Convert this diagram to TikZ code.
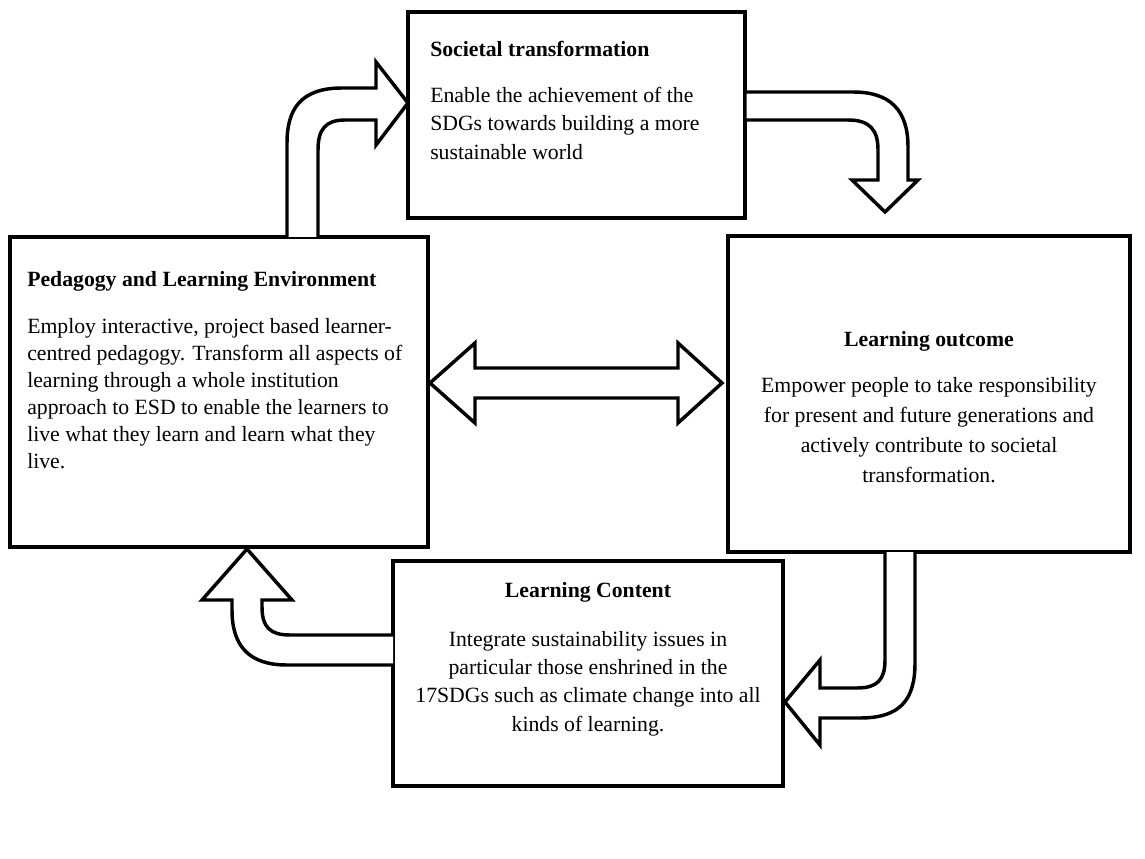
\documentclass[tikz,border=0pt]{standalone}
\usepackage{fontspec}
\setmainfont{Liberation Serif}
\begin{document}
\begin{tikzpicture}[x=0.75pt,y=-0.75pt,
  box/.style={draw,line width=3pt,fill=white},
  arr/.style={draw,line width=2.6pt,fill=white,line join=miter},
  txt/.style={font=\fontsize{16.3}{20}\selectfont,inner sep=0pt},
  ttl/.style={font=\fontsize{16.3}{20}\selectfont\bfseries,inner sep=0pt}]
\useasboundingbox (0,0) rectangle (1145,859);
% boxes
\draw[box] (408,12) rectangle (745,218);
\draw[box] (10,237) rectangle (428,547);
\draw[box] (728,236) rectangle (1130,552);
\draw[box] (393,561) rectangle (783,786);
% arrows
\draw[arr] (287,237) -- (287,143) .. controls (287,110) and (300,88) .. (342,88) -- (376,88) -- (376,62) -- (408,103) -- (376,145) -- (376,120) -- (345,120) .. controls (325,120) and (318,130) .. (318,150) -- (318,237);
\draw[arr] (745,92) -- (853,92) .. controls (890,92) and (908,110) .. (908,147) -- (908,180) -- (918,180) -- (885,212) -- (852,180) -- (878,180) -- (878,150) .. controls (878,130) and (870,120) .. (848,120) -- (745,120) -- cycle;
\draw[arr] (430,383) -- (475,343) -- (475,368) -- (678,368) -- (678,343) -- (722,383) -- (678,423) -- (678,398) -- (475,398) -- (475,423) -- cycle;
\draw[arr] (885,552) -- (885,660) .. controls (885,680) and (877,688) .. (857,688) -- (820,688) -- (820,660) -- (785,702) -- (820,745) -- (820,718) -- (860,718) .. controls (900,718) and (915,700) .. (915,663) -- (915,552);
\draw[arr] (393,635) -- (290,635) .. controls (270,635) and (262,627) .. (262,607) -- (262,600) -- (292,600) -- (247,549) -- (202,600) -- (232,600) -- (232,610) .. controls (232,647) and (250,665) .. (287,665) -- (393,665);
% texts
\node[ttl,anchor=north west] (t1) at (430,41) {Societal transformation};
\node[txt,anchor=north west,align=left] (b1) at (430,87) {Enable the achievement of the\\[1.2pt]SDGs towards building a more\\[1.2pt]sustainable world};
\node[ttl,anchor=north west] (t2) at (27,271) {Pedagogy and Learning Environment};
\node[txt,anchor=north west,align=left] (b2) at (27,318) {Employ interactive, project based learner-\\[0.3pt]centred pedagogy. Transform all aspects of\\[0.3pt]learning through a whole institution\\[0.3pt]approach to ESD to enable the learners to\\[0.3pt]live what they learn and learn what they\\[0.3pt]live.};
\node[ttl,anchor=north] (t3) at (929,331) {Learning outcome};
\node[txt,anchor=north,align=center] (b3) at (929,377) {Empower people to take responsibility\\[2.5pt]for present and future generations and\\[2.5pt]actively contribute to societal\\[2.5pt]transformation.};
\node[ttl,anchor=north] (t4) at (588,582) {Learning Content};
\node[txt,anchor=north,align=center] (b4) at (588,631) {Integrate sustainability issues in\\[1.2pt]particular those enshrined in the\\[1.2pt]17SDGs such as climate change into all\\[1.2pt]kinds of learning.};
\end{tikzpicture}
\end{document}
